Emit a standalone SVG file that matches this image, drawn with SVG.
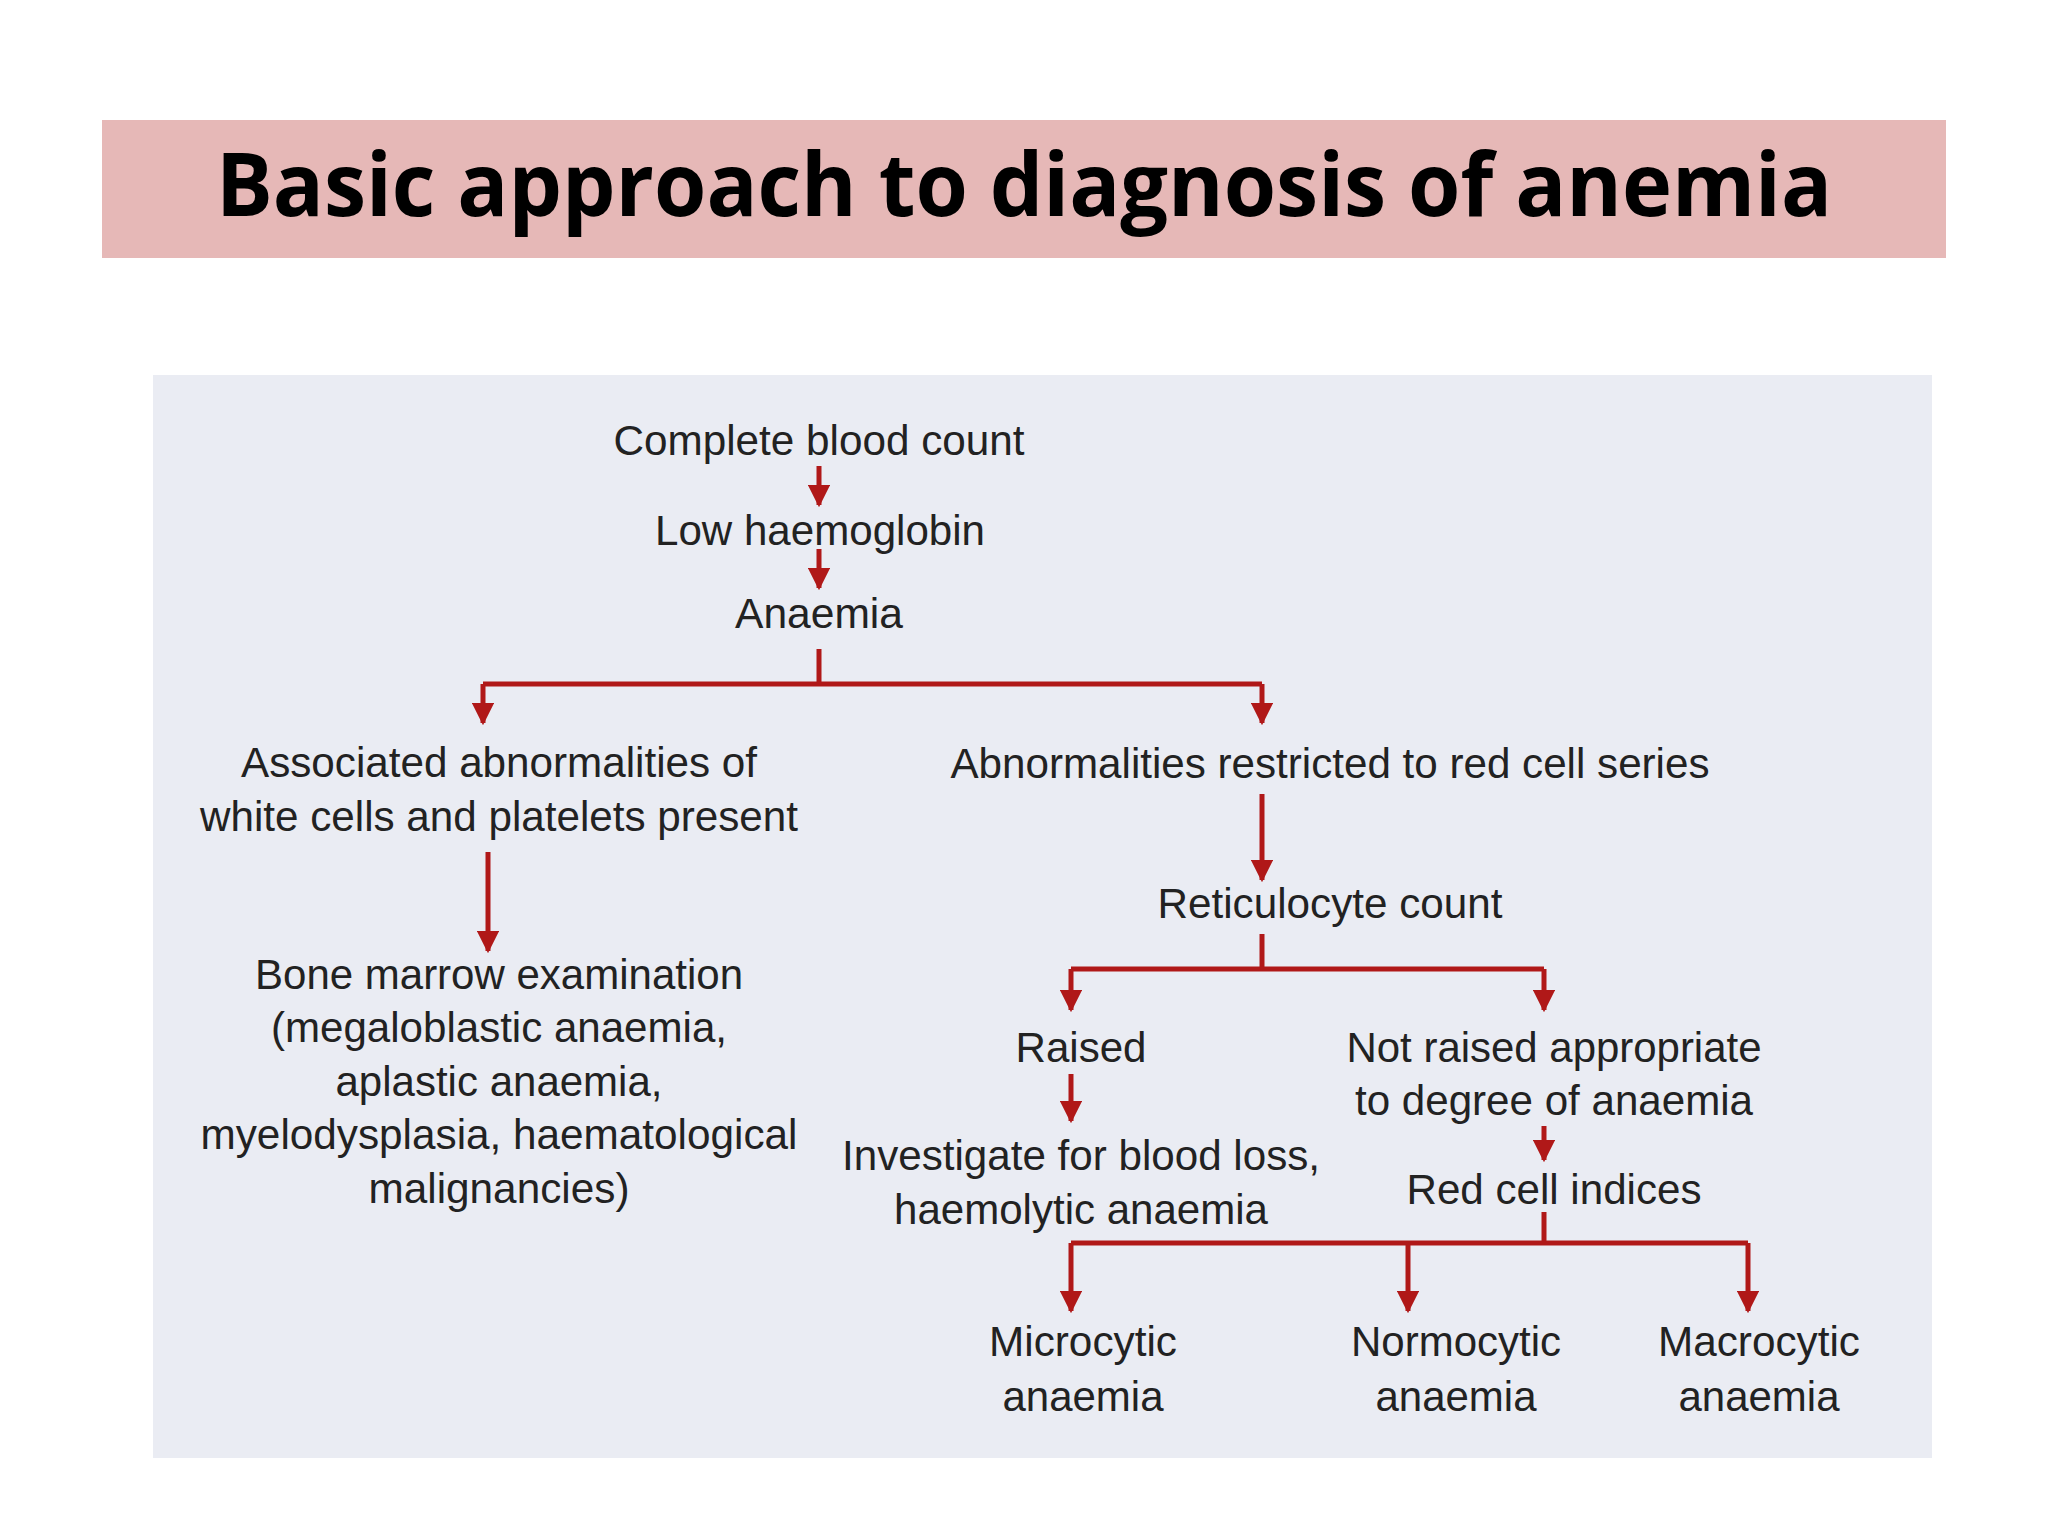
<svg xmlns="http://www.w3.org/2000/svg" width="2048" height="1536" viewBox="0 0 2048 1536">
<style>
.t{font-family:"Liberation Sans",Arial,sans-serif;font-size:42px;fill:#222;text-anchor:middle}
.c{stroke:#b01818;stroke-width:5;fill:none}
</style>
<defs><marker id="a" viewBox="0 0 10 10" refX="9" refY="5" markerWidth="4.5" markerHeight="4.5" orient="auto" markerUnits="strokeWidth"><path d="M0,0L10,5L0,10z" fill="#b01818"/></marker></defs>
<rect width="2048" height="1536" fill="#fff"/>
<g id="title"><rect x="102" y="120" width="1844" height="138" fill="#e6b8b7"/>
<text x="1024" y="216" font-family="'Open Sans','Liberation Sans',sans-serif" font-weight="bold" font-size="88" text-anchor="middle" textLength="1616" lengthAdjust="spacingAndGlyphs">Basic approach to diagnosis of anemia</text></g>
<rect x="153" y="375" width="1779" height="1083" fill="#eaecf3"/>
<g id="connectors">
<path class="c" d="M819,466V505" marker-end="url(#a)"/>
<path class="c" d="M819,549V588" marker-end="url(#a)"/>
<path class="c" d="M819,649V684M483,684H1262"/>
<path class="c" d="M483,684V723" marker-end="url(#a)"/>
<path class="c" d="M1262,684V723" marker-end="url(#a)"/>
<path class="c" d="M488,852V951" marker-end="url(#a)"/>
<path class="c" d="M1262,794V880" marker-end="url(#a)"/>
<path class="c" d="M1262,934V969M1071,969H1544"/>
<path class="c" d="M1071,969V1010" marker-end="url(#a)"/>
<path class="c" d="M1544,969V1010" marker-end="url(#a)"/>
<path class="c" d="M1071,1074V1121" marker-end="url(#a)"/>
<path class="c" d="M1544,1126V1160" marker-end="url(#a)"/>
<path class="c" d="M1544,1212V1243M1071,1243H1748"/>
<path class="c" d="M1071,1243V1311" marker-end="url(#a)"/>
<path class="c" d="M1408,1243V1311" marker-end="url(#a)"/>
<path class="c" d="M1748,1243V1311" marker-end="url(#a)"/>
</g>
<g id="n1"><text class="t" x="819" y="455" textLength="411" lengthAdjust="spacingAndGlyphs">Complete blood count</text></g>
<g id="n2"><text class="t" x="820" y="545" textLength="330" lengthAdjust="spacingAndGlyphs">Low haemoglobin</text></g>
<g id="n3"><text class="t" x="819" y="628" textLength="168" lengthAdjust="spacingAndGlyphs">Anaemia</text></g>
<g id="n4"><text class="t" x="499" y="777" textLength="516" lengthAdjust="spacingAndGlyphs">Associated abnormalities of</text><text class="t" x="499" y="831" textLength="598" lengthAdjust="spacingAndGlyphs">white cells and platelets present</text></g>
<g id="n5"><text class="t" x="1330" y="778" textLength="759" lengthAdjust="spacingAndGlyphs">Abnormalities restricted to red cell series</text></g>
<g id="n6"><text class="t" x="499" y="989" textLength="488" lengthAdjust="spacingAndGlyphs">Bone marrow examination</text><text class="t" x="499" y="1042" textLength="456" lengthAdjust="spacingAndGlyphs">(megaloblastic anaemia,</text><text class="t" x="499" y="1096" textLength="327" lengthAdjust="spacingAndGlyphs">aplastic anaemia,</text><text class="t" x="499" y="1149" textLength="597" lengthAdjust="spacingAndGlyphs">myelodysplasia, haematological</text><text class="t" x="499" y="1203" textLength="261" lengthAdjust="spacingAndGlyphs">malignancies)</text></g>
<g id="n7"><text class="t" x="1330" y="918" textLength="345" lengthAdjust="spacingAndGlyphs">Reticulocyte count</text></g>
<g id="n8"><text class="t" x="1081" y="1062" textLength="131" lengthAdjust="spacingAndGlyphs">Raised</text></g>
<g id="n9"><text class="t" x="1081" y="1170" textLength="478" lengthAdjust="spacingAndGlyphs">Investigate for blood loss,</text><text class="t" x="1081" y="1224" textLength="374" lengthAdjust="spacingAndGlyphs">haemolytic anaemia</text></g>
<g id="n10"><text class="t" x="1554" y="1062" textLength="415" lengthAdjust="spacingAndGlyphs">Not raised appropriate</text><text class="t" x="1554" y="1115" textLength="398" lengthAdjust="spacingAndGlyphs">to degree of anaemia</text></g>
<g id="n11"><text class="t" x="1554" y="1204" textLength="295" lengthAdjust="spacingAndGlyphs">Red cell indices</text></g>
<g id="n12"><text class="t" x="1083" y="1356" textLength="188" lengthAdjust="spacingAndGlyphs">Microcytic</text><text class="t" x="1083" y="1411">anaemia</text></g>
<g id="n13"><text class="t" x="1456" y="1356" textLength="210" lengthAdjust="spacingAndGlyphs">Normocytic</text><text class="t" x="1456" y="1411">anaemia</text></g>
<g id="n14"><text class="t" x="1759" y="1356" textLength="202" lengthAdjust="spacingAndGlyphs">Macrocytic</text><text class="t" x="1759" y="1411">anaemia</text></g>
</svg>
